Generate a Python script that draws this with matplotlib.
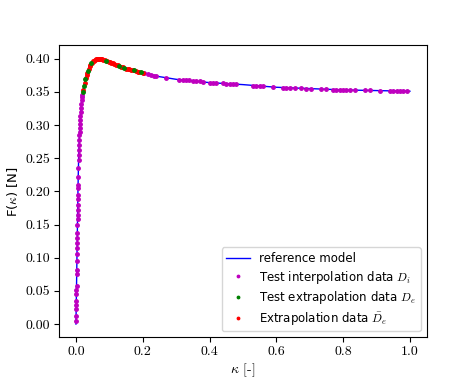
import matplotlib
matplotlib.use('Agg')
import matplotlib.pyplot as plt
from matplotlib.ticker import FuncFormatter

plt.rcParams['mathtext.fontset'] = 'cm'
plt.rcParams['axes.formatter.use_mathtext'] = True

# reference model curve
kappa_ref = [0.0, 0.001, 0.002, 0.003, 0.004, 0.005, 0.006, 0.007, 0.008, 0.010,
             0.012, 0.014, 0.016, 0.018, 0.020, 0.025, 0.030, 0.035, 0.040, 0.045,
             0.050, 0.055, 0.060, 0.065, 0.070, 0.080, 0.090, 0.100, 0.110, 0.120,
             0.130, 0.140, 0.150, 0.160, 0.170, 0.180, 0.190, 0.200, 0.250, 0.300,
             0.400, 0.500, 0.600, 0.700, 0.800, 0.900, 1.000]
F_ref = [0.0, 0.033, 0.066, 0.1, 0.133, 0.166, 0.2, 0.226, 0.248, 0.280,
         0.302, 0.317, 0.330, 0.340, 0.347, 0.362, 0.373, 0.381, 0.388, 0.393,
         0.396, 0.398, 0.3995, 0.400, 0.3998, 0.399, 0.397, 0.395, 0.393, 0.391,
         0.389, 0.387, 0.385, 0.384, 0.383, 0.381, 0.380, 0.379, 0.373, 0.369,
         0.364, 0.361, 0.357, 0.355, 0.353, 0.352, 0.351]

# test interpolation data D_i
kappa_i = [0.0002, 0.0004, 0.0007, 0.0008, 0.0011, 0.0014, 0.0016, 0.0017, 0.0023, 0.0025,
           0.0029, 0.0032, 0.0035, 0.0037, 0.0039, 0.0041, 0.0045, 0.0047, 0.0050, 0.0052,
           0.0054, 0.0056, 0.0059, 0.0062, 0.0064, 0.0069, 0.0074, 0.0079, 0.0082, 0.0086,
           0.0091, 0.0097, 0.0103, 0.0108, 0.0114, 0.0121, 0.0128, 0.0136, 0.0144, 0.0153,
           0.0163, 0.0174, 0.0182, 0.0190,
           0.205, 0.215, 0.225, 0.235, 0.240, 0.270, 0.310, 0.320, 0.330, 0.340,
           0.350, 0.360, 0.370, 0.380, 0.400, 0.410, 0.420, 0.440, 0.450, 0.460,
           0.470, 0.480, 0.530, 0.540, 0.550, 0.560, 0.590, 0.620, 0.630, 0.640,
           0.655, 0.675, 0.690, 0.705, 0.735, 0.750, 0.770, 0.780, 0.790, 0.800,
           0.810, 0.820, 0.835, 0.865, 0.880, 0.910, 0.940, 0.950, 0.960, 0.970,
           0.980, 0.990]
F_i = [0.005, 0.012, 0.022, 0.028, 0.035, 0.045, 0.052, 0.058, 0.075, 0.082,
       0.095, 0.105, 0.115, 0.122, 0.130, 0.138, 0.150, 0.158, 0.165, 0.172,
       0.180, 0.188, 0.195, 0.205, 0.210, 0.222, 0.235, 0.248, 0.255, 0.262,
       0.270, 0.278, 0.285, 0.290, 0.296, 0.302, 0.308, 0.314, 0.320, 0.326,
       0.332, 0.338, 0.342, 0.346,
       0.3778, 0.3766, 0.3754, 0.3742, 0.3736, 0.3712, 0.3687, 0.3682, 0.3677, 0.3672,
       0.3667, 0.3662, 0.3657, 0.3652, 0.3640, 0.3637, 0.3634, 0.3628, 0.3625, 0.3622,
       0.3619, 0.3616, 0.3596, 0.3592, 0.3588, 0.3584, 0.3572, 0.3564, 0.3562, 0.3560,
       0.3557, 0.3553, 0.3550, 0.3548, 0.3542, 0.3540, 0.3536, 0.3534, 0.3532, 0.3530,
       0.3529, 0.3528, 0.3527, 0.3523, 0.3522, 0.3519, 0.3516, 0.3515, 0.3514, 0.3513,
       0.3512, 0.3511]

# test extrapolation data D_e
kappa_e = [0.021, 0.024, 0.028, 0.036, 0.045, 0.090, 0.130, 0.145, 0.175, 0.196]
F_e = [0.350, 0.359, 0.370, 0.382, 0.393, 0.397, 0.389, 0.3858, 0.3825, 0.3795]

# extrapolation data D_e bar
kappa_x = [0.022, 0.026, 0.029, 0.032, 0.034, 0.038, 0.041, 0.043, 0.047, 0.050,
           0.053, 0.056, 0.059, 0.062, 0.065, 0.068, 0.071, 0.074, 0.078, 0.082,
           0.086, 0.094, 0.098, 0.102, 0.106, 0.110, 0.115, 0.120, 0.125, 0.135,
           0.140, 0.150, 0.155, 0.160, 0.165, 0.170, 0.180, 0.185, 0.190, 0.200]
F_x = [0.353, 0.364, 0.371, 0.376, 0.379, 0.385, 0.389, 0.390, 0.394, 0.396,
       0.397, 0.398, 0.399, 0.3997, 0.400, 0.3999, 0.3997, 0.3994, 0.3992, 0.3988,
       0.3982, 0.3962, 0.3955, 0.3946, 0.3938, 0.393, 0.392, 0.391, 0.390, 0.388,
       0.387, 0.385, 0.3845, 0.384, 0.3835, 0.383, 0.381, 0.3805, 0.380, 0.379]

fig = plt.figure(figsize=(4.74, 3.79), dpi=100)
ax = fig.add_subplot(111)
fig.subplots_adjust(left=0.125, right=0.9, bottom=0.11, top=0.88)

ax.plot(kappa_ref, F_ref, color='b', lw=1, label='reference model')
ax.plot(kappa_i, F_i, 'm.', ms=5, label=r'Test interpolation data $D_i$')
# green drawn above the red ones, as in the original
ax.plot(kappa_e, F_e, 'g.', ms=5, zorder=3, label=r'Test extrapolation data $D_e$')
ax.plot(kappa_x, F_x, 'r.', ms=5, label=r'Extrapolation data $\bar{D}_e$')

ax.set_yticks([0.0, 0.05, 0.10, 0.15, 0.20, 0.25, 0.30, 0.35, 0.40])
ax.xaxis.set_major_formatter(FuncFormatter(lambda v, p: '%.1f' % v))
ax.yaxis.set_major_formatter(FuncFormatter(lambda v, p: '%.2f' % v))
ax.tick_params(labelsize=10, pad=3)
for lbl in ax.get_xticklabels() + ax.get_yticklabels():
    lbl.set_fontfamily('cmr10')

ax.set_xlabel(r'$\kappa$ [-]', fontsize=10, family='cmr10', labelpad=2)
ax.set_ylabel(r'F($\kappa$) [N]', fontsize=9.5, labelpad=4)
ax.legend(loc='lower right', fontsize=8.5, numpoints=1, labelspacing=0.3,
          markerscale=0.7)

fig.savefig('out.png', dpi=100)
